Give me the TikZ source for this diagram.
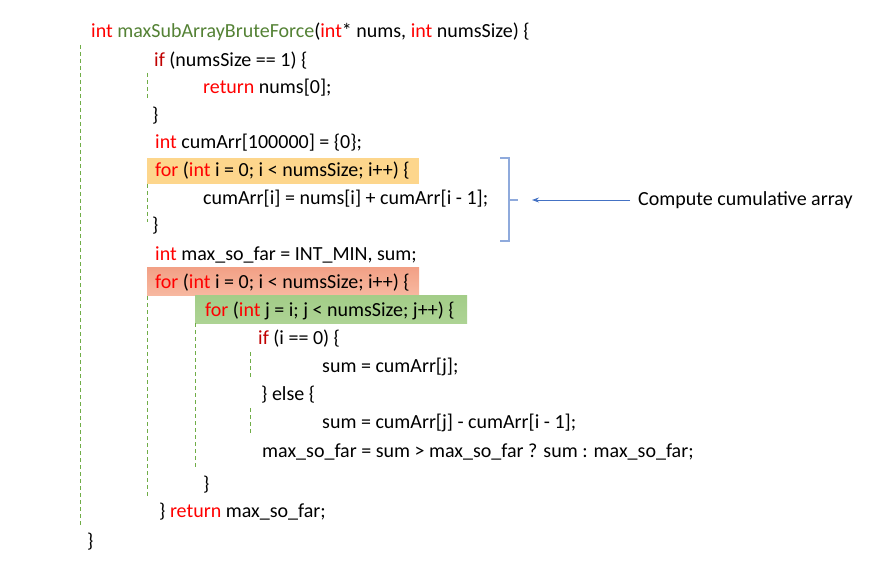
\documentclass[tikz,border=0pt]{standalone}
\usepackage{fontspec}
\setmainfont{Carlito}
\usetikzlibrary{arrows.meta}
\definecolor{kwred}{HTML}{FF0000}
\definecolor{ifred}{HTML}{C00000}
\definecolor{fngreen}{HTML}{548235}
\definecolor{hlorange}{HTML}{FDD68C}
\definecolor{hlredtop}{HTML}{F2A085}
\definecolor{hlredbot}{HTML}{F7B8A0}
\definecolor{hlgreentop}{HTML}{A3CD88}
\definecolor{hlgreenbot}{HTML}{ADD394}
\definecolor{dashgreen}{HTML}{70AD47}
\definecolor{brackblue}{HTML}{8FAADC}
\definecolor{arrowblue}{HTML}{4472C4}
\newcommand{\kw}[1]{\textcolor{kwred}{#1}}
\newcommand{\kwif}[1]{\textcolor{ifred}{#1}}
\begin{document}
\begin{tikzpicture}[x=1pt,y=-1pt,
  code/.style={anchor=base west, inner sep=0pt, font=\fontsize{20}{24}\selectfont},
  hlbox/.style={anchor=north west, inner sep=0pt, draw=none},
  guide/.style={draw=dashgreen, line width=1.2pt, dash pattern=on 4pt off 3pt},
  brack/.style={draw=brackblue, line width=1.2pt},
  pointer/.style={draw=arrowblue, line width=0.9pt, -{Stealth[length=7pt,width=5pt]}}
]
\useasboundingbox (0,0) rectangle (886,580);
\fill[white] (0,0) rectangle (886,580);
% highlight boxes
\node[hlbox, fill=hlorange, minimum width=272pt, minimum height=26pt] (hlA) at (147,158) {};
\node[hlbox, top color=hlredtop, bottom color=hlredbot, minimum width=272pt, minimum height=28pt] (hlB) at (147,267) {};
\node[hlbox, top color=hlgreentop, bottom color=hlgreenbot, minimum width=272pt, minimum height=28pt] (hlC) at (195,295) {};
% guides
\draw[guide] (80.5,45) -- (80.5,525);
\draw[guide] (147.5,73) -- (147.5,100);
\draw[guide] (147.5,184) -- (147.5,222);
\draw[guide] (147.5,296) -- (147.5,497);
\draw[guide] (195.5,323) -- (195.5,467);
\draw[guide] (250.5,352) -- (250.5,379);
\draw[guide] (250.5,408) -- (250.5,435);
% code
\node[code] (l1) at (91,38) {\kw{int} \textcolor{fngreen}{maxSubArrayBruteForce}(\kw{int}* nums, \kw{int} numsSize) \{};
\node[code] (l2) at (154,67) {\kwif{if} (numsSize == 1) \{};
\node[code] (l3) at (203,94) {\kw{return} nums[0];};
\node[code] (l4) at (152,122) {\}};
\node[code] (l5) at (155,149) {\kw{int} cumArr[100000] = \{0\};};
\node[code] (l6) at (155,177) {\kw{for} (\kw{int} i = 0; i < numsSize; i++) \{};
\node[code] (l7) at (203,205) {cumArr[i] = nums[i] + cumArr[i - 1];};
\node[code] (l8) at (152,232) {\}};
\node[code] (l9) at (155,260) {\kw{int} max\_so\_far = INT\_MIN, sum;};
\node[code] (l10) at (155,288) {\kw{for} (\kw{int} i = 0; i < numsSize; i++) \{};
\node[code] (l11) at (205,316) {\kw{for} (\kw{int} j = i; j < numsSize; j++) \{};
\node[code] (l12) at (258,344) {\kwif{if} (i == 0) \{};
\node[code] (l13) at (322,372) {sum = cumArr[j];};
\node[code] (l14) at (261,400) {\} else \{};
\node[code] (l15) at (322,428) {sum = cumArr[j] - cumArr[i - 1];};
\node[code] (l16) at (262,457) {max\_so\_far = sum > max\_so\_far ? sum : max\_so\_far;};
\node[code] (l17) at (203,490) {\}};
\node[code] (l18) at (159,517) {\} \kw{return} max\_so\_far;};
\node[code] (l19) at (87,547) {\}};
% bracket and annotation
\coordinate (bt) at (509,158);
\coordinate (bb) at (509,241);
\coordinate (bm) at (509,200);
\draw[brack] (500,158) -- (bt) -- (bb) -- (500,241);
\draw[brack] (bm) -- (518,200);
\node[code] (note) at (638,206) {Compute cumulative array};
\coordinate (tip) at (532,200);
\draw[pointer] (630,200) -- (tip);
\end{tikzpicture}
\end{document}
